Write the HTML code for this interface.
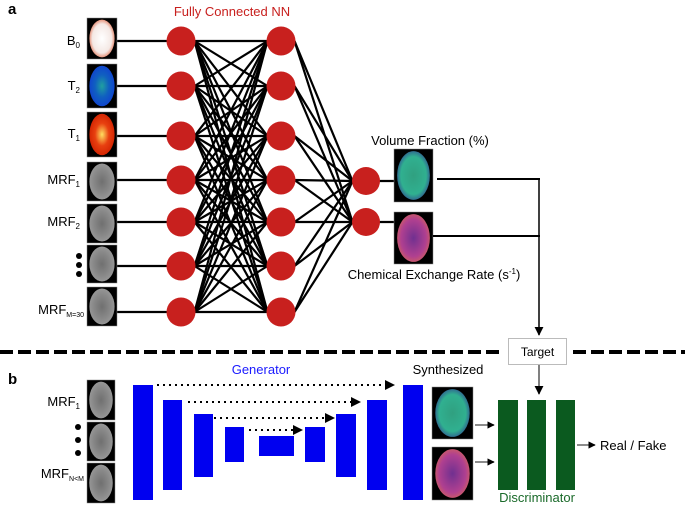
<!DOCTYPE html>
<html><head><meta charset="utf-8"><style>
html,body{margin:0;padding:0;background:#fff;}
svg{display:block;font-family:"Liberation Sans",sans-serif;}
</style></head><body>
<svg id="s" width="685" height="508" viewBox="0 0 685 508" xmlns="http://www.w3.org/2000/svg">
<defs>
<radialGradient id="gw" cx="50%" cy="50%" r="55%"><stop offset="0" stop-color="#fff"/><stop offset="0.7" stop-color="#f4e8e4"/><stop offset="1" stop-color="#e07050"/></radialGradient>
<radialGradient id="gb" cx="50%" cy="50%" r="55%"><stop offset="0" stop-color="#20a0a0"/><stop offset="0.5" stop-color="#1060c0"/><stop offset="1" stop-color="#1040d0"/></radialGradient>
<radialGradient id="gr" cx="50%" cy="50%" r="55%"><stop offset="0" stop-color="#ffe060"/><stop offset="0.5" stop-color="#e84010"/><stop offset="1" stop-color="#d02000"/></radialGradient>
<radialGradient id="gg" cx="50%" cy="50%" r="55%"><stop offset="0" stop-color="#707070"/><stop offset="0.6" stop-color="#888"/><stop offset="1" stop-color="#9a9a9a"/></radialGradient>
<radialGradient id="gv" cx="50%" cy="50%" r="55%"><stop offset="0" stop-color="#30a080"/><stop offset="0.7" stop-color="#30b090"/><stop offset="1" stop-color="#305090"/></radialGradient>
<radialGradient id="gp" cx="50%" cy="50%" r="55%"><stop offset="0" stop-color="#703090"/><stop offset="0.7" stop-color="#b04090"/><stop offset="1" stop-color="#d06060"/></radialGradient>
<marker id="ar" viewBox="0 0 10 10" refX="9" refY="5" markerWidth="6" markerHeight="6" orient="auto"><path d="M0,0L10,5L0,10z" fill="#000"/></marker>
<marker id="ars" viewBox="0 0 10 10" refX="9" refY="5" markerWidth="5" markerHeight="5" orient="auto"><path d="M0,0L10,5L0,10z" fill="#000"/></marker>
</defs>
<g id="lines" stroke="#000" stroke-width="2.2"></g>
<g id="nodes" fill="#c8201e"></g>
<g id="imgs"></g>

<text x="8" y="14" font-size="15" font-weight="bold">a</text>
<text x="232" y="16" font-size="13" fill="#c8201e" text-anchor="middle">Fully Connected NN</text>
<g font-size="13" text-anchor="end">
<text x="80" y="45">B<tspan font-size="8" dy="3">0</tspan></text>
<text x="80" y="90">T<tspan font-size="8" dy="3">2</tspan></text>
<text x="80" y="138">T<tspan font-size="8" dy="3">1</tspan></text>
<text x="80" y="184">MRF<tspan font-size="8" dy="3">1</tspan></text>
<text x="80" y="226">MRF<tspan font-size="8" dy="3">2</tspan></text>
<text x="84" y="314">MRF<tspan font-size="7" dy="3">M=30</tspan></text>
</g>
<circle cx="79" cy="256" r="3"/><circle cx="79" cy="265" r="3"/><circle cx="79" cy="274" r="3"/>
<text x="430" y="145" font-size="13" text-anchor="middle">Volume Fraction (%)</text>
<text x="434" y="279" font-size="13" text-anchor="middle">Chemical Exchange Rate (s<tspan font-size="8" dy="-5">-1</tspan><tspan dy="5">)</tspan></text>
<path d="M437 179H540M433 236H540" stroke="#000" stroke-width="2" fill="none"/>
<path d="M539 179V335" stroke="#000" stroke-width="1.5" fill="none" marker-end="url(#ar)"/>

<path d="M0 352H503M573 352H685" stroke="#000" stroke-width="4" stroke-dasharray="13,5"/>
<rect x="508.5" y="338.5" width="58" height="26" fill="#fff" stroke="#bbb"/>
<text x="537.5" y="356" font-size="12" text-anchor="middle">Target</text>
<path d="M539 365V394" stroke="#555" stroke-width="1.5" marker-end="url(#ar)"/>

<text x="8" y="384" font-size="15" font-weight="bold">b</text>
<text x="261" y="374" font-size="13" fill="#1a1aff" text-anchor="middle">Generator</text>
<text x="448" y="374" font-size="13" text-anchor="middle">Synthesized</text>
<text x="537" y="502" font-size="13" fill="#1a6a2a" text-anchor="middle">Discriminator</text>
<text x="600" y="450" font-size="13">Real / Fake</text>
<g font-size="13" text-anchor="end">
<text x="80" y="406">MRF<tspan font-size="8" dy="3">1</tspan></text>
<text x="84" y="478">MRF<tspan font-size="7" dy="3">N&lt;M</tspan></text>
</g>
<circle cx="78" cy="427" r="3"/><circle cx="78" cy="440" r="3"/><circle cx="78" cy="453" r="3"/>

<g fill="#0000f0">
<rect x="133" y="385" width="20" height="115"/>
<rect x="163" y="400" width="19" height="90"/>
<rect x="194" y="414" width="19" height="63"/>
<rect x="225" y="427" width="19" height="35"/>
<rect x="259" y="436" width="35" height="20"/>
<rect x="305" y="427" width="20" height="35"/>
<rect x="336" y="414" width="20" height="63"/>
<rect x="367" y="400" width="20" height="90"/>
<rect x="403" y="385" width="20" height="115"/>
</g>
<g stroke="#000" stroke-width="2" stroke-dasharray="2,4" fill="none">
<path d="M157 385H394" marker-end="url(#ars)"/>
<path d="M188 402H360" marker-end="url(#ars)"/>
<path d="M214 418H334" marker-end="url(#ars)"/>
<path d="M249 430H302" marker-end="url(#ars)"/>
</g>
<g fill="#0b5a1f">
<rect x="498" y="400" width="20" height="90"/>
<rect x="527" y="400" width="19" height="90"/>
<rect x="556" y="400" width="19" height="90"/>
</g>
<g stroke="#666" stroke-width="1.5" fill="none">
<path d="M475 425H494" marker-end="url(#ars)"/>
<path d="M475 462H494" marker-end="url(#ars)"/>
<path d="M577 445H595" marker-end="url(#ars)"/>
</g>
</svg>
<script>
var NS="http://www.w3.org/2000/svg";
function el(p,t,a){var e=document.createElementNS(NS,t);for(var k in a)e.setAttribute(k,a[k]);document.getElementById(p).appendChild(e);return e;}
var ys=[41,86,136,180,222,266,312];
var x1=181,x2=281,r=14.5;
ys.forEach(function(a){ys.forEach(function(b){el("lines","line",{x1:x1+r-1,y1:a,x2:x2-r+1,y2:b});});
 [181,222].forEach(function(b){el("lines","line",{x1:x2+r-1,y1:a,x2:366-r+1,y2:b});});
 el("lines","line",{x1:117,y1:a,x2:x1,y2:a});
 el("nodes","circle",{cx:x1,cy:a,r:r});el("nodes","circle",{cx:x2,cy:a,r:r});});
el("lines","line",{x1:366,y1:181,x2:395,y2:181});el("lines","line",{x1:366,y1:222,x2:395,y2:222});
el("nodes","circle",{cx:366,cy:181,r:14});el("nodes","circle",{cx:366,cy:222,r:14});
function img(x,y,w,h,g){el("imgs","rect",{x:x,y:y,width:w,height:h,fill:"#000",stroke:"#888","stroke-width":0.5});
 el("imgs","ellipse",{cx:x+w/2,cy:y+h/2,rx:w*0.42,ry:h*0.46,fill:"url(#"+g+")"});}
var tops=[[18,41],[64,44],[112,45],[162,39],[204,39],[245,38],[287,39]];
var gs=["gw","gb","gr","gg","gg","gg","gg"];
tops.forEach(function(t,i){img(87,t[0],30,t[1],gs[i]);});
img(394,149,39,53,"gv");img(394,212,39,52,"gp");
img(87,380,28,40,"gg");img(87,422,28,39,"gg");img(87,463,28,40,"gg");
img(432,387,41,52,"gv");img(432,447,41,53,"gp");
</script>
</body></html>
